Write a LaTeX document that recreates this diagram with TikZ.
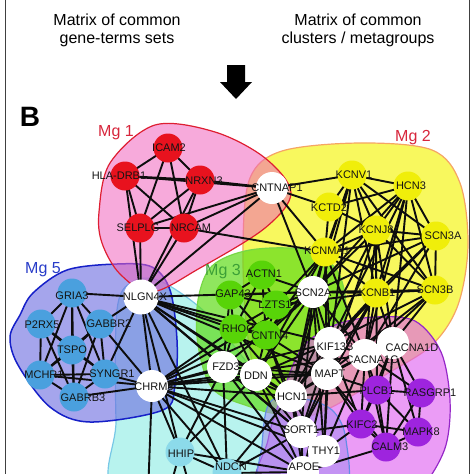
\documentclass[tikz,border=0pt]{standalone}
\usepackage{fontspec}
\setmainfont{Liberation Sans}
\pgfdeclarelayer{hulls}
\pgfdeclarelayer{edges}
\pgfsetlayers{hulls,edges,main}
\definecolor{nred}{RGB}{232,18,30}
\definecolor{nyel}{RGB}{240,238,10}
\definecolor{ngrn}{RGB}{88,212,8}
\definecolor{nblu}{RGB}{74,160,222}
\definecolor{ncya}{RGB}{140,218,234}
\definecolor{npur}{RGB}{158,36,222}
\definecolor{hpink}{RGB}{240,100,190}
\definecolor{hpinkb}{RGB}{222,30,50}
\definecolor{hyel}{RGB}{245,245,40}
\definecolor{hyelb}{RGB}{245,165,100}
\definecolor{hgrn}{RGB}{95,220,25}
\definecolor{hgrnb}{RGB}{120,215,70}
\definecolor{hcya}{RGB}{140,235,228}
\definecolor{hcyab}{RGB}{120,200,230}
\definecolor{hblu}{RGB}{110,110,225}
\definecolor{hblub}{RGB}{22,32,200}
\definecolor{hpur}{RGB}{222,95,240}
\definecolor{hpurb}{RGB}{150,40,200}
\definecolor{hlav}{RGB}{165,140,240}
\definecolor{hlavb}{RGB}{100,140,230}
\definecolor{mgred}{RGB}{215,38,60}
\definecolor{mgblu}{RGB}{40,60,200}
\definecolor{mggrn}{RGB}{60,160,55}
\begin{document}
\begin{tikzpicture}[x=1pt,y=-1pt,
  nd/.style={circle,minimum size=29pt,inner sep=0pt,draw=none},
  rn/.style={nd,fill=nred},
  yn/.style={nd,fill=nyel},
  gn/.style={nd,fill=ngrn},
  bn/.style={nd,fill=nblu},
  cn/.style={nd,fill=ncya},
  pn/.style={nd,fill=npur},
  wn/.style={nd,fill=white,minimum size=32pt},
  lb/.style={font=\fontsize{11}{12}\selectfont,inner sep=0pt,text=black!92},
  mg/.style={font=\fontsize{16}{18}\selectfont,inner sep=0pt},
  toptxt/.style={font=\fontsize{16}{17.5}\selectfont,align=center,inner sep=0pt},
  edge/.style={line width=1.9pt,black!95},
  hull/.style={fill opacity=0.62,line width=1.2pt}]
\useasboundingbox (0,0) rectangle (474,474);
\clip (0,0) rectangle (474,474);

% ---------------- hulls
\begin{pgfonlayer}{hulls}
\filldraw[hull,fill=hcya,draw=hcyab] plot[smooth cycle,tension=0.55] coordinates {(117,310) (132,282) (160,281) (205,312) (245,360) (288,415) (300,495) (122,495) (116,420)};
\filldraw[hull,fill=hyel,draw=hyelb,fill opacity=0.75] plot[smooth cycle,tension=0.55] coordinates {(250,178) (282,151) (360,143) (432,150) (460,183) (468,245) (458,305) (432,345) (385,375) (330,408) (292,418) (262,395) (247,330) (243,245)};
\filldraw[hull,fill=hgrn,draw=hgrnb,fill opacity=0.7] plot[smooth cycle,tension=0.55] coordinates {(198,300) (212,266) (250,250) (305,250) (338,272) (345,320) (322,385) (285,413) (245,405) (212,388) (198,345)};
\filldraw[hull,fill=hpur,draw=hpurb] plot[smooth cycle,tension=0.55] coordinates {(302,348) (335,325) (375,317) (415,321) (441,352) (450,400) (446,445) (428,480) (410,495) (264,495) (268,440) (282,395)};
\filldraw[hull,fill=hlav,draw=hlavb,fill opacity=0.55] plot[smooth cycle,tension=0.55] coordinates {(270,402) (300,398) (332,410) (346,440) (342,495) (262,495) (262,445)};
\filldraw[hull,fill=hblu,draw=hblub,line width=1.5pt] plot[smooth cycle,tension=0.55] coordinates {(67,270) (117,264) (152,267) (170,290) (177,340) (175,385) (163,410) (90,422) (50,407) (18,365) (10,337) (20,315) (33,293)};
\filldraw[hull,fill=hpink,draw=hpinkb,fill opacity=0.55] plot[smooth cycle,tension=0.55] coordinates {(99,212) (110,163) (155,125) (215,132) (265,158) (291,193) (265,228) (200,268) (152,292) (120,274) (102,243)};
\end{pgfonlayer}

% ---------------- nodes (circles)
\node[rn] (ICAM) at (168,148) {};
\node[rn] (HLA) at (125,176) {};
\node[rn] (NRXN) at (200,180) {};
\node[rn] (SELP) at (140,228) {};
\node[rn] (NRCAM) at (184,228) {};
\node[wn] (CNTNAP) at (272,188) {};
\node[yn] (KCNV) at (352,175) {};
\node[yn] (HCNc) at (408,186) {};
\node[yn] (KCTD) at (329,207) {};
\node[yn] (KCNJ) at (376,230) {};
\node[yn] (SCNa) at (436,236) {};
\node[yn] (KCNMA) at (325,252) {};
\node[yn] (KCNB) at (376,293) {};
\node[yn] (SCNb) at (435,290) {};
\node[wn] (SCNz) at (313,292) {};
\node[gn] (ACTN) at (262,275) {};
\node[gn] (GAP) at (230,295) {};
\node[gn] (LZTS) at (276,305) {};
\node[gn] (RHOC) at (234,329) {};
\node[gn] (CNTN) at (266,335) {};
\node[wn] (FZD) at (223,367) {};
\node[wn] (DDN) at (256,375) {};
\node[wn] (KIFB) at (330,343) {};
\node[wn] (CACC) at (365,355) {};
\node[wn] (CACD) at (393,343) {};
\node[wn] (MAPT) at (327,374) {};
\node[wn] (HCNa) at (291,396) {};
\node[pn] (PLCB) at (377,390) {};
\node[pn] (RASG) at (421,393) {};
\node[pn] (KIFC) at (361,424) {};
\node[pn] (MAPK) at (418,432) {};
\node[pn] (CALM) at (386,447) {};
\node[wn] (SORT) at (301,432) {};
\node[wn] (THY) at (324,451) {};
\node[wn] (APOE) at (303,472) {};
\node[cn] (HHIP) at (180,452) {};
\node[cn] (NDCN) at (227,473) {};
\node[bn] (GRIA) at (72,293) {};
\node[wn,minimum size=35pt] (NLGN) at (141,297) {};
\node[bn] (PRX) at (41,324) {};
\node[bn] (GABB) at (100,324) {};
\node[bn] (TSPO) at (72,350) {};
\node[bn] (MCHR) at (40,375) {};
\node[bn] (SYNG) at (105,374) {};
\node[bn] (GABR) at (74,397) {};
\node[wn] (CHRM) at (152,386) {};
\coordinate (offA) at (148,495);
\coordinate (offB) at (168,495);
\coordinate (offC) at (192,495);
\coordinate (offD) at (290,495);
\coordinate (offE) at (315,495);

% ---------------- edges
\begin{pgfonlayer}{edges}
\foreach \a/\b in {
 ICAM/HLA,ICAM/NRXN,ICAM/SELP,ICAM/NRCAM,HLA/NRXN,HLA/SELP,HLA/NRCAM,NRXN/SELP,NRXN/NRCAM,SELP/NRCAM,
 NRXN/CNTNAP,SELP/CNTNAP,NRCAM/CNTNAP,HLA/CNTNAP,NRCAM/KCNMA,
 NLGN/SELP,NLGN/NRCAM,NLGN/NRXN,NLGN/HLA,NLGN/CNTNAP,
 CNTNAP/KCNV,CNTNAP/KCTD,CNTNAP/KCNMA,CNTNAP/SCNz,
 KCNV/HCNc,KCNV/KCTD,KCNV/KCNJ,KCNV/SCNa,KCNV/KCNMA,KCNV/KCNB,KCNV/SCNb,
 HCNc/KCTD,HCNc/KCNJ,HCNc/SCNa,HCNc/KCNMA,HCNc/KCNB,HCNc/SCNb,
 KCTD/KCNMA,KCTD/KCNJ,KCNJ/SCNa,KCNJ/KCNMA,KCNJ/KCNB,KCNJ/SCNb,
 SCNa/KCNMA,SCNa/KCNB,SCNa/SCNb,KCNMA/KCNB,KCNMA/SCNb,KCNB/SCNb,
 SCNz/KCNB,SCNz/KCNMA,SCNz/KCNJ,SCNz/HCNc,SCNz/SCNa,SCNz/KCNV,SCNz/SCNb,
 KCNV/MAPT,KCNV/HCNa,HCNc/CACC,HCNc/CACD,HCNc/KIFB,KCNJ/CACC,KCNJ/CACD,KCNJ/MAPT,KCNJ/HCNa,KCNJ/PLCB,
 SCNa/CACC,SCNa/KIFB,KCNMA/HCNa,KCNMA/MAPT,KCNMA/KIFB,KCNMA/CACC,KCNB/CACD,KCNB/CACC,KCNB/KIFB,
 KCNB/MAPT,KCNB/HCNa,KCNB/SORT,SCNb/CACC,SCNb/CACD,SCNb/MAPT,SCNb/KIFB,KCNMA/DDN,KCNMA/CNTN,KCNMA/LZTS,
 ACTN/GAP,ACTN/LZTS,ACTN/RHOC,ACTN/CNTN,GAP/LZTS,GAP/RHOC,GAP/CNTN,LZTS/RHOC,LZTS/CNTN,RHOC/CNTN,
 LZTS/SCNz,ACTN/SCNz,CNTN/SCNz,GAP/FZD,RHOC/FZD,CNTN/DDN,CNTN/HCNa,CNTN/MAPT,LZTS/KCNB,RHOC/DDN,
 GAP/SCNz,RHOC/HCNa,CNTN/SORT,
 SCNz/FZD,SCNz/DDN,SCNz/HCNa,SCNz/KIFB,SCNz/MAPT,SCNz/SORT,SCNz/CACC,SCNz/THY,
 GRIA/PRX,GRIA/GABB,GRIA/TSPO,GRIA/MCHR,GRIA/SYNG,GRIA/GABR,PRX/TSPO,PRX/MCHR,PRX/GABR,PRX/SYNG,
 GABB/TSPO,GABB/MCHR,GABB/SYNG,GABB/GABR,TSPO/MCHR,TSPO/SYNG,TSPO/GABR,MCHR/SYNG,MCHR/GABR,SYNG/GABR,
 SYNG/CHRM,GABR/CHRM,GABB/CHRM,MCHR/CHRM,GRIA/NLGN,GABB/NLGN,SYNG/NLGN,
 NLGN/CHRM,NLGN/HHIP,NLGN/NDCN,NLGN/FZD,NLGN/DDN,NLGN/RHOC,NLGN/CNTN,NLGN/SCNz,NLGN/HCNa,NLGN/SORT,NLGN/MAPT,NLGN/KIFB,
 CHRM/FZD,CHRM/DDN,CHRM/HCNa,CHRM/SORT,CHRM/THY,CHRM/APOE,CHRM/MAPT,CHRM/KIFB,CHRM/SCNz,CHRM/HHIP,CHRM/NDCN,
 CHRM/CNTN,CHRM/RHOC,CHRM/CACC,CHRM/offA,
 FZD/HCNa,FZD/SORT,FZD/APOE,FZD/HHIP,FZD/NDCN,FZD/DDN,FZD/THY,FZD/MAPT,
 DDN/HCNa,DDN/MAPT,DDN/SORT,DDN/KIFB,DDN/APOE,DDN/HHIP,
 HHIP/NDCN,HHIP/APOE,HHIP/offB,HHIP/offC,NDCN/APOE,NDCN/HCNa,NDCN/SORT,
 HCNa/SORT,HCNa/THY,HCNa/APOE,HCNa/MAPT,HCNa/KIFB,HCNa/CACC,HCNa/PLCB,
 MAPT/SORT,MAPT/THY,MAPT/KIFC,MAPT/PLCB,MAPT/KIFB,MAPT/CACC,MAPT/CALM,MAPT/APOE,
 KIFB/SORT,KIFB/THY,KIFB/KIFC,KIFB/CACC,
 CACC/CACD,CACC/PLCB,CACC/CALM,CACC/RASG,CACC/THY,CACC/KIFC,
 CACD/PLCB,CACD/RASG,CACD/CALM,CACD/MAPK,CACD/KIFC,
 PLCB/RASG,PLCB/KIFC,PLCB/MAPK,PLCB/CALM,RASG/MAPK,RASG/CALM,KIFC/CALM,MAPK/CALM,KIFC/MAPK,
 SORT/THY,SORT/APOE,THY/APOE,CALM/APOE,KIFC/THY,KIFC/SORT,APOE/offD,APOE/offE}
 \draw[edge] (\a.center) -- (\b.center);
\end{pgfonlayer}

% ---------------- labels
\node[lb] (tICAM) at (169,148) {ICAM2};
\node[lb] (tHLA) at (119,176) {HLA-DRB1};
\node[lb] (tNRXN) at (204,181) {NRXN3};
\node[lb] (tSELP) at (138,228) {SELPLG};
\node[lb] (tNRCAM) at (191,228) {NRCAM};
\node[lb] (tCNTNAP) at (277,188) {CNTNAP1};
\node[lb] (tKCNV) at (354,175) {KCNV1};
\node[lb] (tHCNc) at (411,186) {HCN3};
\node[lb] (tKCTD) at (329,208) {KCTD2};
\node[lb] (tKCNJ) at (376,230) {KCNJ8};
\node[lb] (tSCNa) at (443,236) {SCN3A};
\node[lb] (tKCNMA) at (327,251) {KCNMA1};
\node[lb] (tKCNB) at (377,293) {KCNB1};
\node[lb] (tSCNb) at (435,290) {SCN3B};
\node[lb] (tSCNz) at (313,293) {SCN2A};
\node[lb] (tACTN) at (264,274) {ACTN1};
\node[lb] (tGAP) at (233,294) {GAP43};
\node[lb] (tLZTS) at (275,305) {LZTS1};
\node[lb] (tRHOC) at (238,329) {RHOC};
\node[lb] (tCNTN) at (270,336) {CNTN4};
\node[lb] (tFZD) at (226,367) {FZD3};
\node[lb] (tDDN) at (256,376) {DDN};
\node[lb] (tKIFB) at (335,347) {KIF13B};
\node[lb] (tCACC) at (372,360) {CACNA1C};
\node[lb] (tCACD) at (412,348) {CACNA1D};
\node[lb] (tMAPT) at (330,374) {MAPT};
\node[lb] (tHCNa) at (292,397) {HCN1};
\node[lb] (tPLCB) at (377,391) {PLCB1};
\node[lb] (tRASG) at (430,393) {RASGRP1};
\node[lb] (tKIFC) at (362,425) {KIFC2};
\node[lb] (tMAPK) at (421,432) {MAPK8};
\node[lb] (tCALM) at (390,447) {CALM3};
\node[lb] (tSORT) at (301,430) {SORT1};
\node[lb] (tTHY) at (326,451) {THY1};
\node[lb] (tAPOE) at (304,467) {APOE};
\node[lb] (tHHIP) at (181,454) {HHIP};
\node[lb] (tNDCN) at (231,467) {NDCN};
\node[lb] (tGRIA) at (72,296) {GRIA3};
\node[lb] (tNLGN) at (145,297) {NLGN4X};
\node[lb] (tPRX) at (42,325) {P2RX5};
\node[lb] (tGABB) at (109,324) {GABBR2};
\node[lb] (tTSPO) at (72,350) {TSPO};
\node[lb] (tMCHR) at (44,375) {MCHR1};
\node[lb] (tSYNG) at (112,374) {SYNGR1};
\node[lb] (tGABR) at (83,398) {GABRB3};
\node[lb] (tCHRM) at (154,387) {CHRM3};

% ---------------- group labels
\node[mg,text=mgred] (mg1) at (116,133) {Mg 1};
\node[mg,text=mgred] (mg2) at (413,138) {Mg 2};
\node[mg,text=mgblu] (mg5) at (43,270) {Mg 5};
\node[mg,text=mggrn] (mg3) at (223,272) {Mg 3};

% ---------------- header
\node[toptxt] (tl) at (117,30.5) {Matrix of common\\gene-terms sets};
\node[toptxt] (tr) at (358,30.5) {Matrix of common\\clusters / metagroups};
\fill[black] (227,65) -- (245,65) -- (245,82) -- (252,82) -- (236,99) -- (220,82) -- (227,82) -- cycle;
\node[font=\bfseries\fontsize{28}{28}\selectfont,inner sep=0pt] (B) at (30,117) {B};

% ---------------- frame
\draw[black!75,line width=1pt] (5,-5) -- (5,480);
\draw[black!75,line width=1pt] (469,-5) -- (469,480);
\end{tikzpicture}
\end{document}
